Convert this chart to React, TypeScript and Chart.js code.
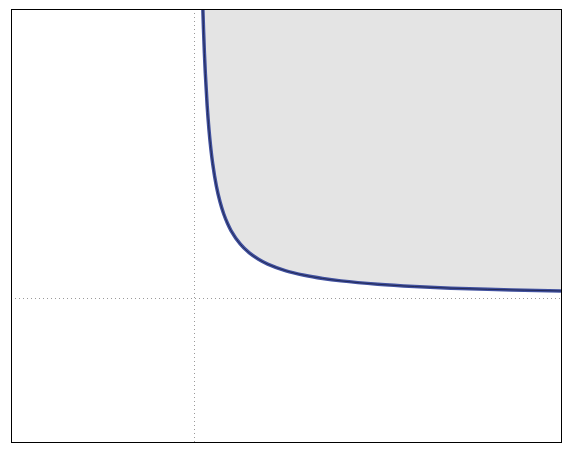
import React, { useRef, useEffect } from 'react';
import { Chart, registerables } from 'chart.js';

Chart.register(...registerables);

// points (x, y)
const curveX = [0.0465, 0.05, 0.055, 0.06, 0.07, 0.08, 0.09, 0.1, 0.12, 0.14, 0.16, 0.18, 0.2, 0.25, 0.3, 0.35, 0.4, 0.5, 0.6, 0.7, 0.8, 1.0, 1.2, 1.4, 1.6, 1.8, 2.0];
const curveY = [21.5, 20, 18.2, 16.7, 14.3, 12.5, 11.1, 10, 8.33, 7.14, 6.25, 5.56, 5, 4, 3.33, 2.86, 2.5, 2, 1.67, 1.43, 1.25, 1, 0.83, 0.71, 0.62, 0.56, 0.5];

const xRange = [-1, 2];
const yRange = [-10.75, 21.5];

const frame = {
  id: 'frame',
  beforeDatasetsDraw(chart: Chart) {
    const { ctx, chartArea: a, scales } = chart;
    const x0 = Math.round(scales.x.getPixelForValue(0)) + 0.5;
    const y0 = Math.round(scales.y.getPixelForValue(0)) + 0.5;
    ctx.save();
    ctx.strokeStyle = '#9a9a9a';
    ctx.lineWidth = 1;
    ctx.setLineDash([1, 3]);
    ctx.beginPath();
    ctx.moveTo(x0, a.top);
    ctx.lineTo(x0, a.bottom);
    ctx.moveTo(a.left, y0);
    ctx.lineTo(a.right, y0);
    ctx.stroke();
    ctx.restore();
  },
  afterDraw(chart: Chart) {
    const { ctx, chartArea: a } = chart;
    ctx.save();
    ctx.strokeStyle = '#000';
    ctx.lineWidth = 1;
    ctx.strokeRect(a.left + 0.5, a.top + 0.5, a.right - a.left, a.bottom - a.top);
    ctx.restore();
  }
};

const App: React.FC = () => {
  const canvasRef = useRef<HTMLCanvasElement>(null);

  useEffect(() => {
    if (!canvasRef.current) return;
    const pts = curveX.map((x, i) => ({ x, y: curveY[i] }));
    const chart = new Chart(canvasRef.current, {
      type: 'scatter',
      data: {
        datasets: [
          { data: pts, showLine: true, borderColor: '#1a1f45', borderWidth: 0.8, pointRadius: 0, cubicInterpolationMode: 'monotone', fill: false },
          { data: pts, showLine: true, borderColor: '#41519f', borderWidth: 3.5, pointRadius: 0, cubicInterpolationMode: 'monotone', fill: 'end', backgroundColor: '#e4e4e4' }
        ]
      },
      options: {
        responsive: false,
        animation: false,
        layout: { padding: { left: 11, top: 9, right: 11, bottom: 13 } },
        plugins: { legend: { display: false }, tooltip: { enabled: false } },
        scales: {
          x: { type: 'linear', min: xRange[0], max: xRange[1], display: false },
          y: { type: 'linear', min: yRange[0], max: yRange[1], display: false }
        }
      },
      plugins: [frame]
    });
    return () => chart.destroy();
  }, []);

  return (
    <div style={{ position: 'fixed', left: 0, top: 0, width: 572, height: 455, background: '#fff' }}>
      <canvas ref={canvasRef} width={572} height={455} />
    </div>
  );
};

export default App;
